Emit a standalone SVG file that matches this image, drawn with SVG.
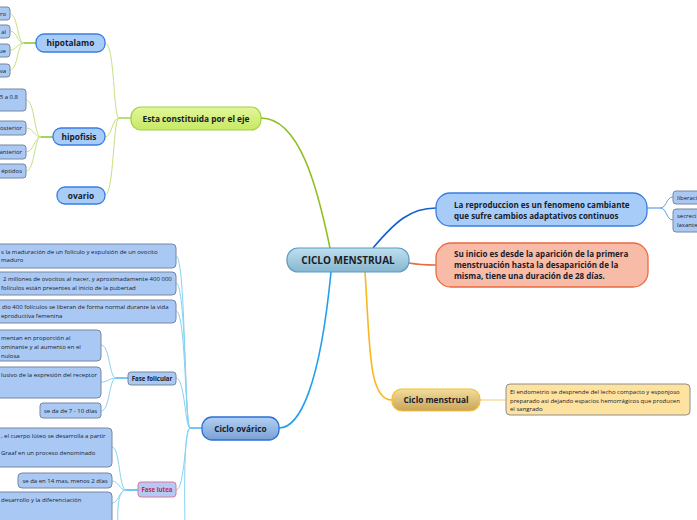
<svg xmlns="http://www.w3.org/2000/svg" width="697" height="520" viewBox="0 0 697 520">
<defs>
<linearGradient id="gCentral" x1="0" y1="0" x2="0" y2="1"><stop offset="0" stop-color="#bfe0ef"/><stop offset="1" stop-color="#86b6d0"/></linearGradient>
<linearGradient id="gGreen" x1="0" y1="0" x2="0" y2="1"><stop offset="0" stop-color="#e2f79a"/><stop offset="1" stop-color="#c6e864"/></linearGradient>
<linearGradient id="gTan" x1="0" y1="0" x2="0" y2="1"><stop offset="0" stop-color="#f3dd9c"/><stop offset="1" stop-color="#c8a459"/></linearGradient>
<linearGradient id="gOva" x1="0" y1="0" x2="0" y2="1"><stop offset="0" stop-color="#b2d0f4"/><stop offset="1" stop-color="#7aa0d4"/></linearGradient>
</defs>
<style>
text{font-family:"Open Sans","Noto Sans",sans-serif;fill:#18202a}
.b{font-weight:bold}
.t10{font-size:10px}
.t8{font-size:8.3px}
.t8r{font-size:8px}
.t6{font-size:6px}
.t6b{font-size:6.1px;font-weight:bold}
.sub{fill:#a8ccf8;stroke:#3a7de0;stroke-width:1.3}
.leaf{fill:#a9c9f4;stroke:#76869f;stroke-width:1}
.c{fill:none}
.lg{stroke:#c4e27e;stroke-width:1}
.lb{stroke:#86d2f2;stroke-width:1}
</style>

<g id="connectors">
<path class="c" d="M261,118 C300,118 318,190 330,248" stroke="#8cc020" stroke-width="1.6"/>
<path class="c" d="M373,248 C395,222 410,208 436,208" stroke="#1560d0" stroke-width="1.6"/>
<path class="c" d="M409,263 C420,265 426,265 436,265" stroke="#ec6a40" stroke-width="1.6"/>
<path class="c" d="M365,272 C370,345 368,400 392,400" stroke="#f8b820" stroke-width="1.6"/>
<path class="c" d="M331,272 C320,385 300,428 279,428" stroke="#20a0ec" stroke-width="1.6"/>

<path class="c" d="M131,118 L119,118" stroke="#9cd040" stroke-width="1.4"/>
<path class="c lg" d="M119,118 C113,118 115,43 105,43"/>
<path class="c lg" d="M119,118 C112,118 112,137 105,137"/>
<path class="c lg" d="M119,118 C113,118 114,195 105,195"/>

<path class="c" d="M36,43 L24,43" stroke="#7cc020" stroke-width="1.4"/>
<path class="c lg" d="M24,43 C17,43 18,14 10,14"/>
<path class="c lg" d="M24,43 C17,43 17,31 10,31"/>
<path class="c lg" d="M24,43 C17,43 17,50 10,50"/>
<path class="c lg" d="M24,43 C17,43 18,70 10,70"/>

<path class="c" d="M53,137 L41,137" stroke="#7cc020" stroke-width="1.4"/>
<path class="c lg" d="M41,137 C34,137 35,100 26,100"/>
<path class="c lg" d="M41,137 C34,137 34,128 26,128"/>
<path class="c lg" d="M41,137 C34,137 34,152 26,152"/>
<path class="c lg" d="M41,137 C34,137 35,171 26,171"/>

<path class="c" d="M647,208 L660,208" stroke="#5a9ee8" stroke-width="1.2"/>
<path class="c" d="M660,208 C667,208 666,197 673,197" stroke="#5a9ee8" stroke-width="1"/>
<path class="c" d="M660,208 C667,208 666,220 673,220" stroke="#5a9ee8" stroke-width="1"/>

<path class="c" d="M480,400 L506,400" stroke="#f6d48e" stroke-width="1.2"/>

<path class="c" d="M202,428 L190,428" stroke="#38b0f0" stroke-width="1.4"/>
<path class="c lb" d="M190,428 C184,428 186,256 176,256"/>
<path class="c lb" d="M190,428 C185,428 186,283 176,283"/>
<path class="c lb" d="M190,428 C185,428 186,311 176,311"/>
<path class="c lb" d="M190,428 C185,428 185,378 176,378"/>
<path class="c lb" d="M190,428 C185,428 185,490 176,490"/>
<path class="c lb" d="M190,428 C185,428 184,470 185,525"/>

<path class="c" d="M128,378 L116,378" stroke="#38b0f0" stroke-width="1.4"/>
<path class="c lb" d="M116,378 C109,378 110,345 101,345"/>
<path class="c lb" d="M116,378 C109,378 109,382 101,382"/>
<path class="c lb" d="M116,378 C109,378 110,411 101,411"/>

<path class="c" d="M138,490 L126,490" stroke="#38b0f0" stroke-width="1.4"/>
<path class="c lb" d="M126,490 C119,490 120,447 112,447"/>
<path class="c lb" d="M126,490 C119,490 119,481 112,481"/>
<path class="c lb" d="M126,490 C119,490 119,503 112,503"/>
<path class="c lb" d="M126,490 C119,490 117,505 118,525"/>
</g>

<g id="central">
<rect x="287" y="248" width="122" height="24" rx="11" fill="url(#gCentral)" stroke="#5b9bc4" stroke-width="1.2"/>
<text class="b t10" x="348" y="263.5" text-anchor="middle">CICLO MENSTRUAL</text>
</g>

<g id="eje">
<rect x="131" y="107" width="130" height="23" rx="10" fill="url(#gGreen)" stroke="#a2d042" stroke-width="1.2"/>
<text class="b t8" x="196" y="121.5" text-anchor="middle">Esta constituida por el eje</text>
</g>

<g id="hipotalamo">
<rect class="sub" x="36" y="34" width="69" height="18" rx="8"/>
<text class="b t8" x="70.5" y="46" text-anchor="middle">hipotalamo</text>
</g>
<g id="hipotalamo-1"><rect class="leaf" x="-10" y="7" width="20" height="13" rx="3"/><text class="t6" x="6" y="16" text-anchor="end">ro</text></g>
<g id="hipotalamo-2"><rect class="leaf" x="-10" y="25" width="20" height="13" rx="3"/><text class="t6" x="6" y="34" text-anchor="end">al</text></g>
<g id="hipotalamo-3"><rect class="leaf" x="-10" y="44" width="20" height="13" rx="3"/><text class="t6" x="6" y="53" text-anchor="end">ue</text></g>
<g id="hipotalamo-4"><rect class="leaf" x="-10" y="64" width="20" height="13" rx="3"/><text class="t6" x="6" y="73" text-anchor="end">va</text></g>

<g id="hipofisis">
<rect class="sub" x="53" y="128" width="52" height="17" rx="8"/>
<text class="b t8" x="79" y="139.5" text-anchor="middle">hipofisis</text>
</g>
<g id="hipofisis-1"><rect class="leaf" x="-10" y="89" width="36" height="22" rx="3"/><text class="t6" x="18" y="99" text-anchor="end">5 a 0.8</text></g>
<g id="hipofisis-2"><rect class="leaf" x="-10" y="121" width="36" height="14" rx="3"/><text class="t6" x="22" y="130" text-anchor="end">osterior</text></g>
<g id="hipofisis-3"><rect class="leaf" x="-10" y="145" width="36" height="14" rx="3"/><text class="t6" x="22" y="154" text-anchor="end">anterior</text></g>
<g id="hipofisis-4"><rect class="leaf" x="-10" y="164" width="36" height="14" rx="3"/><text class="t6" x="22" y="173" text-anchor="end">éptidos</text></g>

<g id="ovario">
<rect class="sub" x="57" y="187" width="48" height="17" rx="8"/>
<text class="b t8" x="81" y="198.5" text-anchor="middle">ovario</text>
</g>

<g id="reproduccion">
<rect class="sub" x="436" y="193" width="211" height="33" rx="14"/>
<text class="b t8r" x="454" y="208">La reproduccion es un fenomeno cambiante</text>
<text class="b t8r" x="454" y="219">que sufre cambios adaptativos continuos</text>
</g>
<g id="reproduccion-1"><rect class="leaf" x="673" y="191" width="40" height="13" rx="3"/><text class="t6" x="677" y="199.5">liberaci</text></g>
<g id="reproduccion-2"><rect class="leaf" x="673" y="209" width="40" height="23" rx="3"/><text class="t6" x="677" y="218">secreci</text><text class="t6" x="677" y="227">laxante</text></g>

<g id="inicio">
<rect x="436" y="243" width="212" height="44" rx="15" fill="#f7bba8" stroke="#ec6a40" stroke-width="1.3"/>
<text class="b t8r" x="454" y="257">Su inicio es desde la aparición de la primera</text>
<text class="b t8r" x="454" y="268">menstruación hasta la desaparición de la</text>
<text class="b t8r" x="454" y="279">misma, tiene una duración de 28 días.</text>
</g>

<g id="ciclo-menstrual">
<rect x="392" y="389" width="88" height="22" rx="10" fill="url(#gTan)" stroke="#f8c030" stroke-width="1.2"/>
<text class="b t8" x="436" y="403" text-anchor="middle">Ciclo menstrual</text>
</g>
<g id="endometrio">
<rect x="506" y="384" width="184" height="31" rx="4" fill="#fde2a0" stroke="#8e8e8e" stroke-width="1"/>
<text class="t6" x="510" y="394">El endometrio se desprende del lecho compacto y esponjoso</text>
<text class="t6" x="510" y="402.5">preparado asi dejando espacios hemorrágicos que producen</text>
<text class="t6" x="510" y="411">el sangrado</text>
</g>

<g id="ciclo-ovarico">
<rect x="202" y="417" width="77" height="23" rx="10" fill="url(#gOva)" stroke="#2a70d8" stroke-width="1.3"/>
<text class="b t8" x="240.5" y="431.5" text-anchor="middle">Ciclo ovárico</text>
</g>
<g id="ovarico-1"><rect class="leaf" x="-10" y="244" width="186" height="24" rx="4"/><text class="t6" x="1" y="254">s la maduración de un folículo y expulsión de un ovocito</text><text class="t6" x="1" y="262">maduro</text></g>
<g id="ovarico-2"><rect class="leaf" x="-10" y="272" width="186" height="23" rx="4"/><text class="t6" x="3" y="281">2 millones de ovocitos al nacer, y aproximadamente 400 000</text><text class="t6" x="1" y="290">folículos están presentes al inicio de la pubertad</text></g>
<g id="ovarico-3"><rect class="leaf" x="-10" y="300" width="186" height="23" rx="4"/><text class="t6" x="2" y="309">dio 400 folículos se liberan de forma normal durante la vida</text><text class="t6" x="1" y="318">eproductiva femenina</text></g>

<g id="fase-folicular">
<rect class="leaf" x="128" y="372" width="48" height="13" rx="3"/>
<text class="t6b" x="152" y="380.5" text-anchor="middle">Fase folicular</text>
</g>
<g id="folicular-1"><rect class="leaf" x="-10" y="330" width="111" height="31" rx="4"/><text class="t6" x="1" y="340">mentan en proporción al</text><text class="t6" x="1" y="349">ominante y al aumento en el</text><text class="t6" x="1" y="357.5">nulosa</text></g>
<g id="folicular-2"><rect class="leaf" x="-10" y="367" width="111" height="31" rx="4"/><text class="t6" x="1" y="377">lusivo de la expresión del receptor</text></g>
<g id="folicular-3"><rect class="leaf" x="40" y="403" width="61" height="15" rx="3"/><text class="t6" x="70.5" y="413" text-anchor="middle">se da de 7 - 10 días</text></g>

<g id="fase-lutea">
<rect x="138" y="482" width="38" height="15" rx="3" fill="#b6c8f4" stroke="#d8789a" stroke-width="1"/>
<text class="t6b" x="157" y="492" text-anchor="middle" style="fill:#c02848">Fase lutea</text>
</g>
<g id="lutea-1"><rect class="leaf" x="-10" y="428" width="122" height="39" rx="4"/><text class="t6" x="1" y="438">, el cuerpo lúteo se desarrolla a partir</text><text class="t6" x="1" y="455">Graaf en un proceso denominado</text></g>
<g id="lutea-2"><rect class="leaf" x="18" y="473" width="94" height="15" rx="4"/><text class="t6" x="65" y="483" text-anchor="middle">se da en 14 mas, menos 2 días</text></g>
<g id="lutea-3"><rect class="leaf" x="-10" y="492" width="122" height="40" rx="4"/><text class="t6" x="1" y="502">desarrollo y la diferenciación</text></g>
</svg>
